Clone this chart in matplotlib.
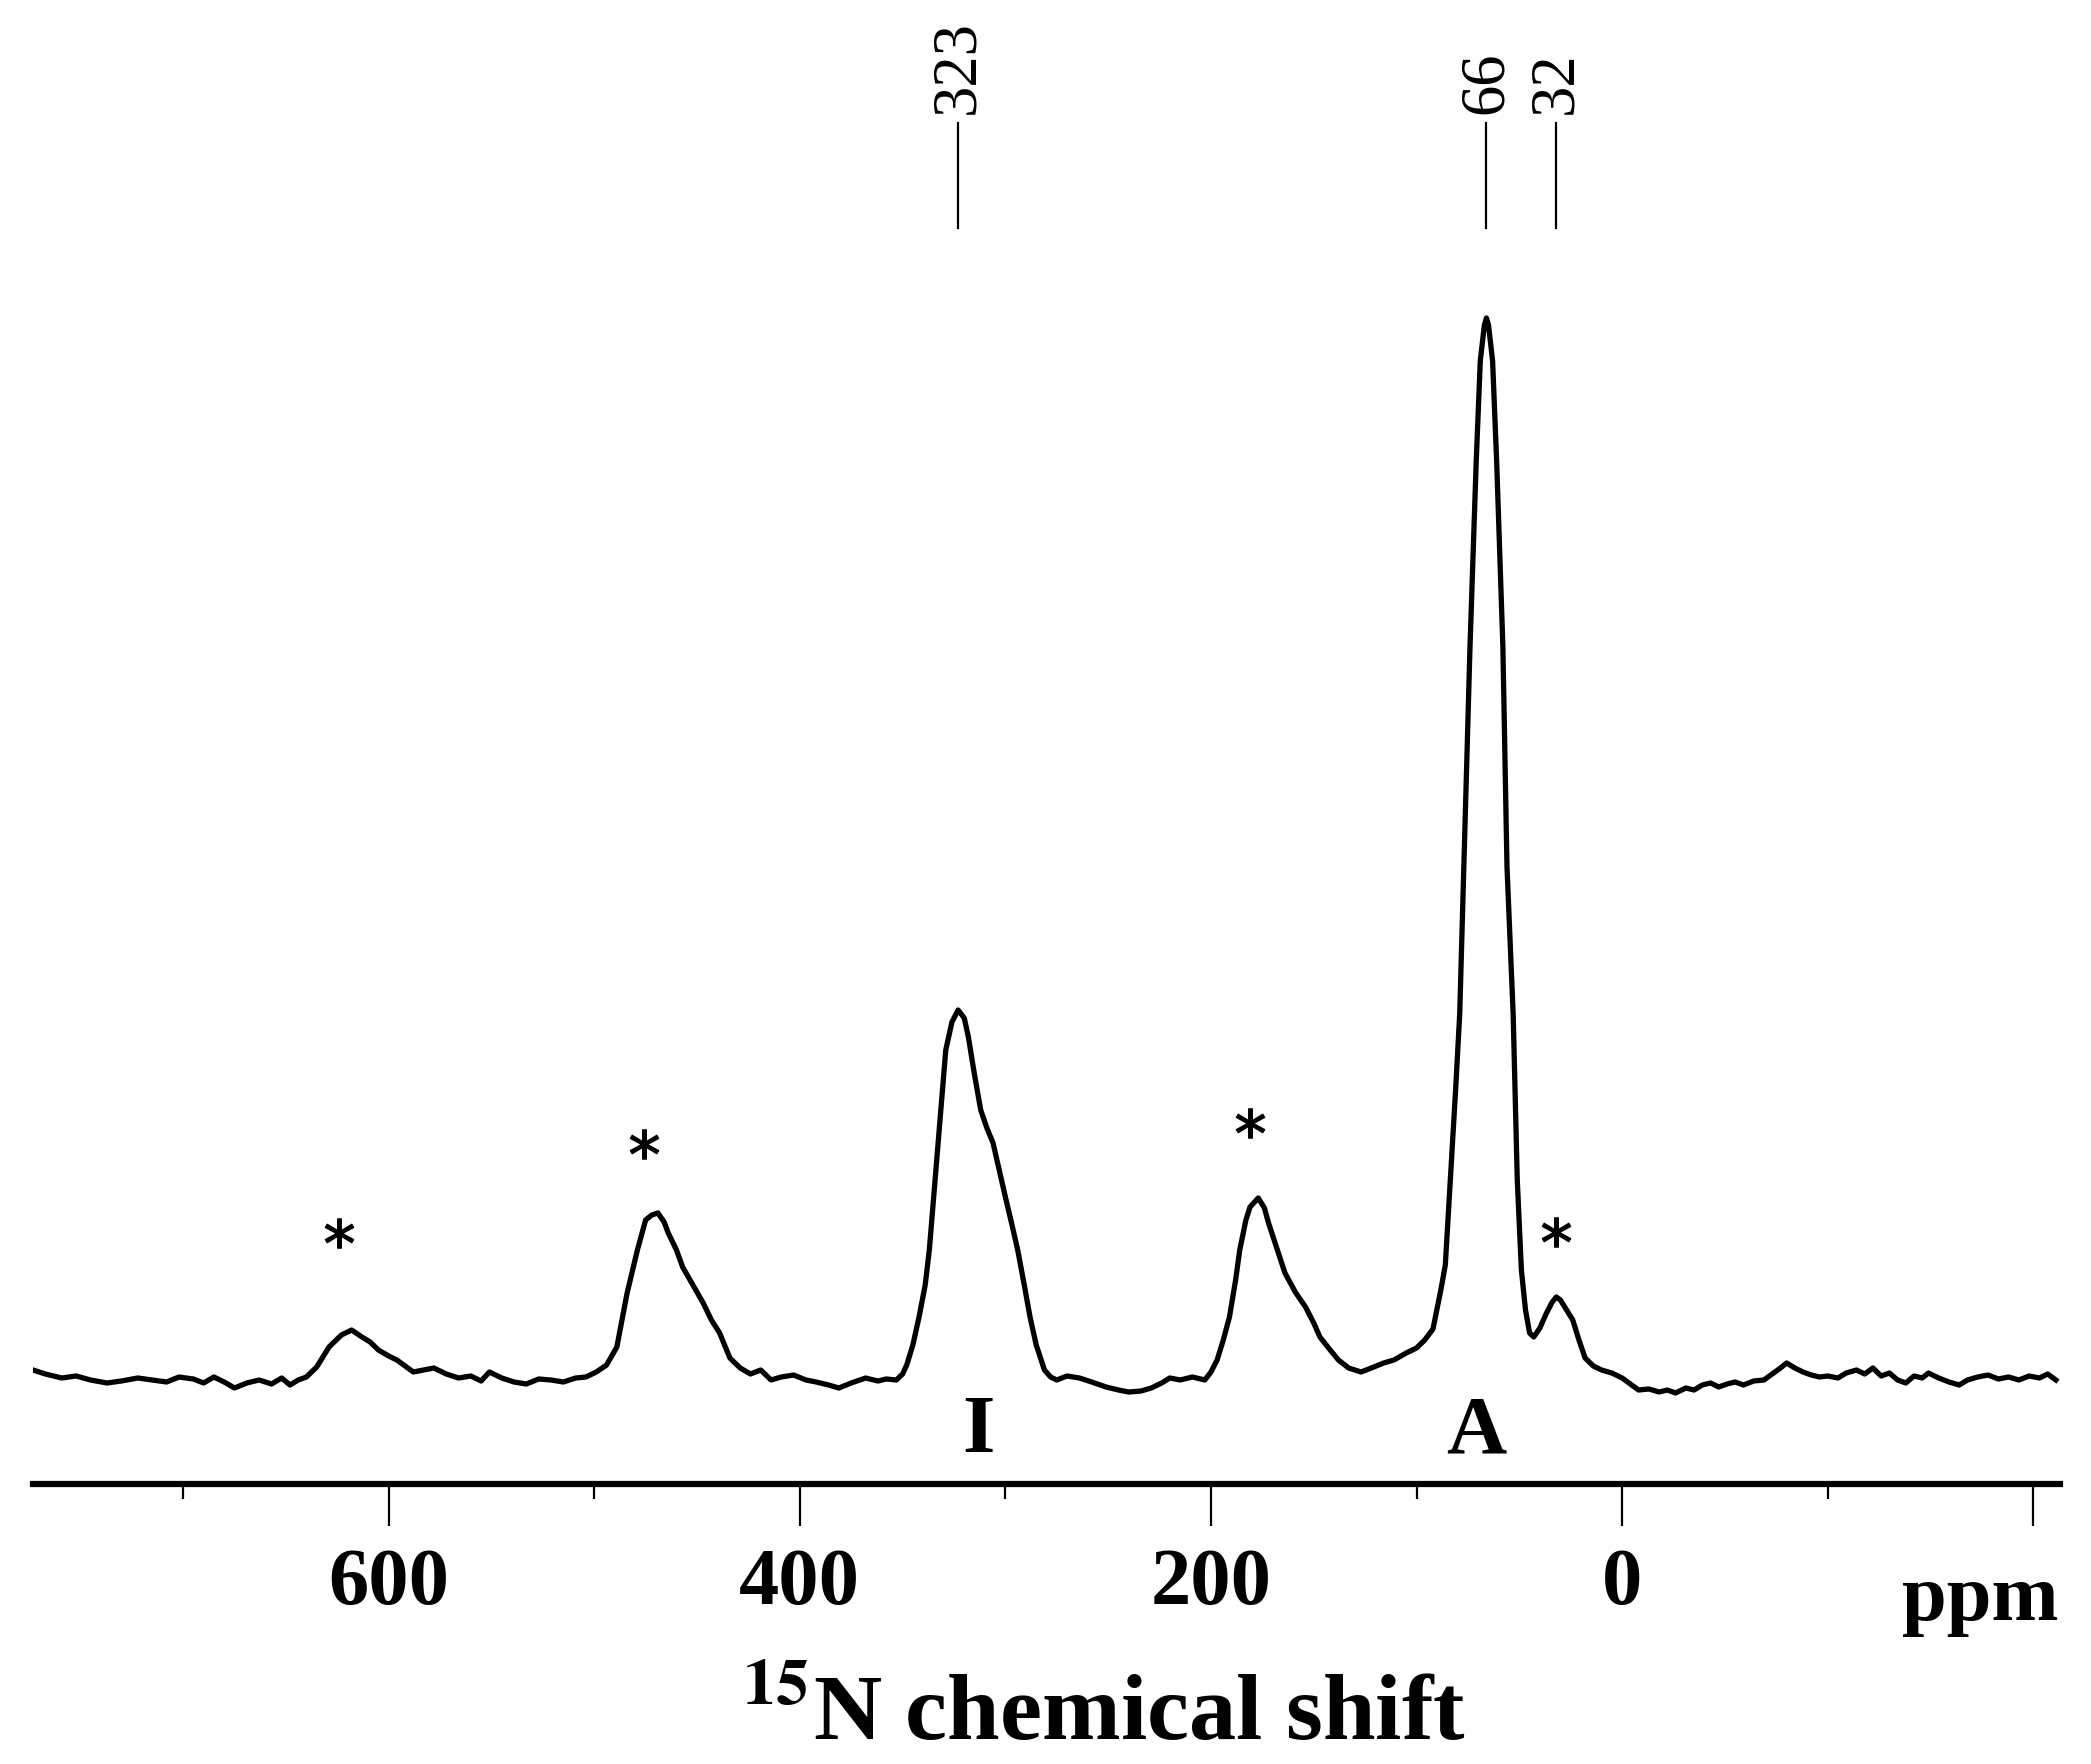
import numpy as np
import matplotlib
matplotlib.use("Agg")
import matplotlib.pyplot as plt
import matplotlib.transforms as mtransforms

# Spectrum (ppm, intensity in arbitrary units)
ppm = [773, 767, 759, 752, 745, 737, 730, 722, 715, 708, 702, 695, 690, 685, 680,
       675, 669, 663, 657, 652, 648, 644, 640, 635, 629, 623, 618, 613, 609, 605,
       600, 596, 592, 588, 583, 578, 572, 566, 560, 555, 551, 545, 539, 533, 527,
       521, 515, 509, 504, 499, 494, 489, 484, 479, 475, 472, 469, 466, 464, 460,
       457, 452, 447, 443, 439, 434, 429, 424, 419, 414, 409, 403, 397, 392, 386,
       381, 375, 368, 362, 358, 353, 350, 348, 345, 342, 339, 337, 335, 333, 331,
       329, 326, 323, 320, 318, 315, 312, 309, 306, 303, 300, 297, 294, 291, 288,
       285, 281, 278, 275, 270, 264, 258, 251, 245, 240, 234, 229, 224, 220, 215,
       209, 203, 200, 197, 194, 191, 188, 186, 183, 181, 177, 174, 172, 168, 164,
       159, 154, 150, 147, 142, 138, 133, 127, 122, 116, 111, 105, 100, 96, 92,
       88, 86, 83, 81, 79, 77, 74, 71, 69, 67, 66, 65, 63, 61, 58,
       56, 53, 51, 49, 47, 45, 43, 40, 37, 34, 32, 30, 27, 24, 21,
       18, 14, 10, 5, 0, -4, -8, -13, -18, -22, -26, -31, -35, -39, -43,
       -47, -51, -55, -59, -64, -69, -73, -77, -80, -84, -88, -92, -96, -100, -105,
       -109, -114, -118, -122, -126, -130, -134, -138, -142, -146, -149, -154, -159, -164, -168,
       -173, -178, -183, -188, -193, -198, -203, -207, -211]
intensity = [10, 6, 2, 4, 0, -3, -1, 2, 0, -2, 3, 1, -3, 3, -2,
             -8, -3, 0, -4, 2, -5, 0, 3, 13, 33, 45, 50, 43, 38, 30,
             24, 20, 14, 8, 10, 12, 6, 2, 4, -1, 8, 2, -2, -4, 1,
             0, -2, 2, 3, 8, 15, 33, 87, 130, 160, 165, 167, 158, 147, 130,
             113, 95, 77, 60, 47, 22, 12, 6, 10, 0, 3, 5, 0, -2, -5,
             -8, -3, 2, -1, 1, 0, 6, 15, 35, 63, 95, 130, 180, 230, 280,
             330, 358, 370, 362, 343, 305, 270, 252, 237, 210, 183, 157, 130, 97, 63,
             35, 10, 3, 0, 4, 2, -2, -7, -10, -12, -11, -8, -3, 2, 0,
             3, 0, 8, 20, 40, 63, 100, 130, 160, 173, 182, 172, 157, 132, 107,
             88, 73, 57, 43, 30, 20, 12, 8, 12, 17, 20, 27, 32, 40, 51,
             92, 115, 220, 290, 366, 513, 733, 917, 1019, 1055, 1062, 1055, 1019, 917, 733,
             513, 366, 200, 110, 70, 47, 43, 52, 66, 78, 83, 80, 70, 60, 40,
             22, 14, 10, 7, 2, -4, -10, -9, -12, -10, -13, -8, -10, -5, -3,
             -7, -4, -2, -5, -1, 0, 6, 12, 17, 12, 8, 5, 3, 4, 2,
             7, 10, 6, 12, 4, 7, 0, -3, 4, 2, 7, 2, -2, -5, 0,
             3, 5, 1, 3, 0, 4, 2, 6, 0]

# Peak assignments at the top
peak_ppm = [323, 66, 32]
peak_labels = ["323", "66", "32"]

# Spinning sidebands (asterisks)
sideband_ppm = [624, 476, 181, 32]
sideband_y = [147, 236, 257, 148]

# Site labels
site_ppm = [313, 71]
site_labels = ["I", "A"]

major_ticks = [600, 400, 200, 0, -200]
major_labels = ["600", "400", "200", "0", ""]
minor_ticks = [700, 500, 300, 100, -100]

W, H = 2091, 1764
fig = plt.figure(figsize=(W / 100, H / 100), dpi=100)
ax = fig.add_axes([33 / W, 1 - 1484 / H, 2027 / W, 1484 / H])

ax.plot(ppm, intensity, color="black", linewidth=3.8, solid_joinstyle="round")
ax.set_xlim(773, -213)
ax.set_ylim(-104, 1380)

for s in ["top", "left", "right"]:
    ax.spines[s].set_visible(False)
ax.spines["bottom"].set_linewidth(4.5)
ax.set_yticks([])

serif = ["Liberation Serif", "DejaVu Serif"]
ax.set_xticks(major_ticks)
ax.set_xticklabels(major_labels, fontfamily=serif, fontweight="bold", fontsize=58)
ax.set_xticks(minor_ticks, minor=True)
ax.tick_params(axis="x", which="major", direction="out", length=30, width=1.6, pad=16)
ax.tick_params(axis="x", which="minor", direction="out", length=11, width=1.6)

trans = mtransforms.blended_transform_factory(ax.transData, ax.transAxes)
ax.text(-174, -0.0916, "ppm", transform=trans, ha="center", va="baseline",
        fontfamily=serif, fontweight="bold", fontsize=58)

# peak marker lines and labels
for p, lab in zip(peak_ppm, peak_labels):
    ax.plot([p, p], [1152, 1257], color="black", linewidth=1.6)
    ax.text(p, 1266, lab, rotation=90, ha="center", va="bottom",
            fontfamily=serif, fontsize=45)

# asterisks for sidebands
ax.plot(sideband_ppm, sideband_y, linestyle="none", marker=r"$*$",
        markersize=21, color="black")

for p, lab in zip(site_ppm, site_labels):
    ax.text(p, -53, lab, ha="center", va="center", fontfamily=serif,
            fontweight="bold", fontsize=60)

fig.text(1103 / W, 1 - 1740 / H, r"$\mathbf{^{15}}$N chemical shift", ha="center",
         va="baseline", fontfamily=serif, fontweight="bold", fontsize=68,
         math_fontfamily="stix")

fig.savefig("out.png", dpi=100, facecolor="white")
